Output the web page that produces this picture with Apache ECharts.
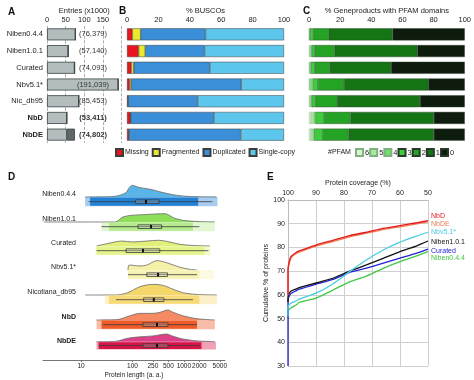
<!DOCTYPE html>
<html><head><meta charset="utf-8">
<script src="https://cdn.jsdelivr.net/npm/echarts@6/dist/echarts.min.js"></script>
<style>html,body{margin:0;padding:0;background:#fff}#c{width:474px;height:380px}</style>
</head><body><div id="c"></div>
<script>
// ---------------- DATA ----------------
const categories = ['Niben0.4.4','Niben1.0.1','Curated','Nbv5.1*','Nic_db95','NbD','NbDE'];
const boldRows = ['NbD','NbDE'];
// Panel A: number of entries
const entries = [76379, 57140, 74093, 191039, 85453, 53411, 74802];
const entriesExtra = [0, 0, 0, 0, 0, 0, 21391];   // NbDE part beyond NbD
const entriesTicks = [0, 50, 100, 150];
// Panel B: % BUSCOs
const buscoMissing    = [3.4, 7.4, 2.8, 1.7, 0.6, 2.1, 1.1];
const buscoFragmented = [5.3, 4.2, 1.5, 1.0, 0.2, 0.3, 0.2];
const buscoDuplicated = [41.3, 37.8, 48.4, 70.1, 44.2, 52.9, 71.1];
const buscoSingle     = [50.0, 50.6, 47.3, 27.2, 55.0, 44.7, 27.6];
// Panel C: % geneproducts with n PFAM domains
const pfam6 = [0.2, 0.4, 0.3, 0.3, 0.4, 1.3, 1.2];
const pfam5 = [0.2, 0.6, 0.4, 0.5, 0.6, 1.7, 1.4];
const pfam4 = [0.2, 0.7, 0.6, 1.9, 0.7, 1.2, 0.8];
const pfam3 = [2.3, 2.1, 2.5, 3.2, 2.5, 5.5, 5.7];
const pfam2 = [9.8, 12.7, 9.6, 16.6, 13.8, 17.0, 16.3];
const pfam1 = [41.0, 53.1, 39.3, 54.1, 53.3, 53.5, 54.8];
const pfam0 = [46.3, 30.4, 47.3, 23.4, 28.7, 19.8, 19.8];
const pfamNames = ['6','5','4','3','2','1','0'];
// Panel D: protein length distributions ([length, relative density])
const dRowNames = ['Niben0.4.4','Niben1.0.1','Curated','Nbv5.1*','Nicotiana_db95','NbD','NbDE'];
const densNiben044 = [[12,0],[40,0.03],[55,0.12],[75,0.35],[88,0.75],[100,0.9],[120,0.8],[140,0.72],[220,0.6],[340,0.4],[610,0.18],[1150,0.05],[2500,0.01],[4300,0]];
const densNiben101 = [[1.9,0],[45,0],[55,0.15],[63,0.36],[90,0.5],[190,0.58],[430,0.64],[560,0.45],[620,0.33],[950,0.13],[2000,0.03],[4000,0]];
const densCurated  = [[20,0],[32,0.18],[63,0.38],[100,0.31],[190,0.38],[320,0.44],[460,0.36],[840,0.13],[1500,0.04],[3200,0]];
const densNbv51    = [[82,0],[86,0.38],[140,0.31],[190,0.38],[300,0.72],[460,0.56],[840,0.21],[1300,0.05],[1800,0]];
const densNicDb95  = [[12,0],[50,0],[70,0.1],[90,0.26],[140,0.64],[250,0.82],[390,0.74],[620,0.44],[950,0.18],[1800,0.04],[4400,0]];
const densNbD      = [[20,0],[50,0.03],[90,0.33],[140,0.51],[250,0.51],[340,0.59],[490,0.77],[620,0.59],[950,0.33],[1800,0.1],[4000,0]];
const densNbDE     = [[20,0],[45,0.03],[82,0.33],[140,0.46],[250,0.54],[460,0.72],[620,0.51],[950,0.26],[1800,0.08],[4000,0]];
const dDensities = [densNiben044, densNiben101, densCurated, densNbv51, densNicDb95, densNbD, densNbDE];
const dRainOuter = [[12,4500],[25,4000],[19,3300],[82,3800],[29,4400],[20,4000],[20,4200]];
const dRainInner = [[15,1900],[35,1500],[20,2500],[82,2000],[35,2000],[25,1800],[22,2200]];
const dBoxStats  = [[14,115,183,330,3600],[25,128,230,370,2000],[20,75,160,340,3000],[82,190,315,480,1800],[48,165,260,410,1500],[27,160,300,490,1800],[22,160,300,490,2000]];
const dTickValues = [10, 100, 250, 500, 1000, 2000, 5000];
// Panel E: cumulative % of proteins vs protein coverage
const eNames = ['NbD','NbDE','Nbv5.1*','Niben1.0.1','Curated','Niben0.4.4'];
const eCoverage = [100, 100, 99, 97, 96, 90, 84, 78, 72, 66, 60, 54, 50];
const eNbD     = [60, 71, 76, 78, 78.5, 81, 83, 85, 86.4, 88, 89.2, 90.4, 91.3];
const eNbDE    = [60, 70, 75.5, 77.5, 78, 80.5, 82.5, 84.5, 86, 87.5, 88.7, 89.9, 90.8];
const eNbv51   = [51, 55, 56.5, 57.5, 58.2, 60.7, 64.6, 69.8, 74.7, 78.9, 82.2, 84.8, 86.4];
const eNiben101= [57, 59.5, 61.5, 62.5, 63, 65, 67, 70, 72.6, 75.4, 78.2, 80.7, 82.7];
const eCurated = [30, 58, 60.5, 61.8, 62.4, 64.5, 66.5, 69.5, 71.3, 73.4, 75.5, 77.6, 79.3];
const eNiben044= [50, 53, 54.5, 55.8, 56.8, 58.6, 62, 65.5, 67.9, 71.2, 74, 76.4, 78.2];
const eValues = [eNbD, eNbDE, eNbv51, eNiben101, eCurated, eNiben044];

// ---------------- STYLE ----------------
const FONT = '"Liberation Sans", Arial, sans-serif';
const FS = 7.5;
const buscoColors = ['#e8161e', '#eaea2c', '#3a8fd8', '#5cc6ec'];
const pfamColors = ['#d8f4d0', '#aaea9c', '#6ee06e', '#3ccc3c', '#24a324', '#157515', '#0e1c0e'];
const dFill = ['#5ab4e8', '#8ede5a', '#e2f07a', '#f5f1a8', '#f5d66a', '#f58a64', '#dc4088'];
const dBand = ['#2280d4', '#b4e98c', '#e6f48c', '#f7f3b4', '#f7da78', '#ee5a28', '#d61446'];
const dBaseY = [197, 222, 246, 270, 295, 320, 344];
const eColors = ['#e41a1c', '#f27a52', '#48cce2', '#111111', '#2222d6', '#44c844'];
const eLabelDy = [-5, 2, 0, 1, 1.5, 6];

const rowsTop = 26, rowsH = 117, barW = 12;
const grids = [], xAxes = [], yAxes = [], series = [], graphics = [];

function catY(gi, showLabels){
  return {gridIndex: gi, type: 'category', data: categories, inverse: true,
    axisLine: {show: false}, axisTick: {show: false},
    axisLabel: {show: showLabels, fontSize: FS, color: '#222', margin: 4,
      formatter: v => boldRows.includes(v) ? '{b|' + v + '}' : v,
      rich: {b: {fontWeight: 'bold', fontSize: FS, fontFamily: FONT, color: '#222'}}}};
}
function topX(gi, name, max, interval, extra){
  return Object.assign({gridIndex: gi, type: 'value', position: 'top', min: 0, max: max, interval: interval,
    name: name, nameLocation: 'middle', nameGap: 9.5, nameTextStyle: {fontSize: FS, color: '#222'},
    axisLine: {show: false}, axisTick: {show: false},
    axisLabel: {fontSize: FS, color: '#222', margin: 2},
    splitLine: {show: false}}, extra || {});
}

// Panel A
grids.push({left: 47, top: rowsTop, width: 74.6, height: rowsH});
xAxes.push(topX(0, 'Entries (x1000)', 200, 50, {
  axisLabel: {fontSize: FS, color: '#222', margin: 2, showMaxLabel: false},
  splitLine: {show: true, lineStyle: {type: 'dashed', color: '#9a9a9a', width: 0.8}}}));
yAxes.push(catY(0, true));
series.push({type: 'bar', xAxisIndex: 0, yAxisIndex: 0, stack: 'a', barWidth: barW, name: 'entries',
  data: entries.map((v, i) => ({value: (v - entriesExtra[i]) / 1000,
    label: {fontWeight: boldRows.includes(categories[i]) ? 'bold' : 'normal'}})),
  itemStyle: {color: '#b4bdbd', borderColor: '#384242', borderWidth: 0.8},
  label: {show: true, position: [46, '50%'], align: 'center', verticalAlign: 'middle', fontSize: FS, color: '#333',
    formatter: p => '(' + entries[p.dataIndex].toLocaleString('en-US') + ')'}});
series.push({type: 'bar', xAxisIndex: 0, yAxisIndex: 0, stack: 'a', barWidth: barW, name: 'entriesExtra',
  data: entriesExtra.map(v => v / 1000),
  itemStyle: {color: '#5f6969', borderColor: '#384242', borderWidth: 0.8}});

// Panel B
grids.push({left: 127, top: rowsTop, width: 157, height: rowsH});
xAxes.push(topX(1, '% BUSCOs', 100, 20));
yAxes.push(catY(1, false));
[['Missing', buscoMissing], ['Fragmented', buscoFragmented], ['Duplicated', buscoDuplicated], ['Single-copy', buscoSingle]]
  .forEach(([n, d], k) => series.push({type: 'bar', name: n, xAxisIndex: 1, yAxisIndex: 1, stack: 'b', barWidth: barW,
    data: d, itemStyle: {color: buscoColors[k], borderColor: '#3c3c3c', borderWidth: 0.5}}));

// Panel C
grids.push({left: 309, top: rowsTop, width: 157, height: rowsH});
xAxes.push(topX(2, '% Geneproducts with PFAM domains', 100, 20));
yAxes.push(catY(2, false));
[pfam6, pfam5, pfam4, pfam3, pfam2, pfam1, pfam0].forEach((d, k) => series.push({type: 'bar', name: pfamNames[k],
  xAxisIndex: 2, yAxisIndex: 2, stack: 'c', barWidth: barW, data: d,
  itemStyle: {color: pfamColors[k], borderColor: k < 3 ? '#7fb07f' : '#2a3a2a', borderWidth: 0.4}}));

// Panel D
const lg = v => Math.log10(v);
function rainRender(i){
  return function(params, api){
    const y0 = api.coord([0, 0])[1], y1 = api.coord([0, -0.72])[1], ym = api.coord([0, -0.36])[1];
    const X = k => api.coord([api.value(k), 0])[0];
    const oLo = X(0), oHi = X(1), iLo = X(2), iHi = X(3), wLo = X(4), q1 = X(5), md = X(6), q3 = X(7), wHi = X(8);
    return {type: 'group', children: [
      {type: 'rect', shape: {x: oLo, y: y0, width: oHi - oLo, height: y1 - y0}, style: {fill: dBand[i], opacity: 0.4}},
      {type: 'rect', shape: {x: iLo, y: y0 + 0.5, width: iHi - iLo, height: y1 - y0 - 1}, style: {fill: dBand[i]}},
      {type: 'line', shape: {x1: wLo, y1: ym, x2: wHi, y2: ym}, style: {stroke: '#3a3a3a', lineWidth: 0.8}},
      {type: 'rect', shape: {x: q1, y: ym - 1.8, width: q3 - q1, height: 3.6}, style: {fill: 'rgba(255,255,255,0.2)', stroke: '#3a3a3a', lineWidth: 0.8}},
      {type: 'rect', shape: {x: md - 1, y: ym - 1.8, width: 2, height: 3.6}, style: {fill: '#111'}}
    ]};
  };
}
for (let i = 0; i < 7; i++) {
  const gi = 3 + i, last = i === 6;
  grids.push({left: 43, width: 182, top: dBaseY[i] - 13, height: 23});
  xAxes.push({gridIndex: gi, type: 'value', min: 0.26, max: 3.8, show: last, position: 'bottom', offset: 10,
    axisLine: {onZero: false, lineStyle: {color: '#777', width: 1}},
    axisTick: {customValues: dTickValues.map(lg), length: 2, lineStyle: {color: '#777'}},
    axisLabel: {customValues: dTickValues.map(lg), fontSize: 6.5, color: '#222', margin: 3,
      formatter: v => String(Math.round(Math.pow(10, v)))},
    splitLine: {show: false},
    name: 'Protein length (a. a.)', nameLocation: 'middle', nameGap: 12, nameTextStyle: {fontSize: 6.5, color: '#222'}});
  yAxes.push({gridIndex: gi, type: 'value', min: -0.77, max: 1, show: false});
  series.push({type: 'line', xAxisIndex: gi, yAxisIndex: gi, smooth: 0.3, symbol: 'none', z: 2,
    data: dDensities[i].map(([l, d]) => [lg(l), d]),
    lineStyle: {color: '#6a6a6a', width: 0.8}, areaStyle: {color: dFill[i], opacity: 1}});
  const o = dRainOuter[i], n = dRainInner[i], b = dBoxStats[i];
  series.push({type: 'custom', xAxisIndex: gi, yAxisIndex: gi, z: 3, renderItem: rainRender(i),
    data: [[o[0], o[1], n[0], n[1], b[0], b[1], b[2], b[3], b[4]].map(lg)]});
  graphics.push({type: 'text', x: 76, y: dBaseY[i] - 3, style: {text: dRowNames[i], align: 'right', verticalAlign: 'middle',
    font: (boldRows.includes(dRowNames[i]) ? 'bold ' : '') + '7px ' + FONT, fill: '#222'}});
}

// Panel E
const eg = 10;
grids.push({left: 288, top: 200, width: 140, height: 166});
xAxes.push({gridIndex: eg, type: 'value', position: 'top', inverse: true, min: 50, max: 100, interval: 10,
  name: 'Protein coverage (%)', nameLocation: 'middle', nameGap: 13, nameTextStyle: {fontSize: 7, color: '#222'},
  axisLine: {show: true, lineStyle: {color: '#bbb'}}, axisTick: {show: false},
  axisLabel: {fontSize: 7, color: '#222', margin: 3}, splitLine: {show: true, lineStyle: {color: '#cfcfcf'}}});
yAxes.push({gridIndex: eg, type: 'value', min: 30, max: 100, interval: 10,
  name: 'Cumulative % of proteins', nameLocation: 'middle', nameGap: 17, nameTextStyle: {fontSize: 7, color: '#222'},
  axisLine: {show: true, lineStyle: {color: '#bbb'}}, axisTick: {show: false},
  axisLabel: {fontSize: 7, color: '#222', margin: 3}, splitLine: {show: true, lineStyle: {color: '#cfcfcf'}}});
eNames.forEach((nm, k) => {
  const vals = eValues[k];
  series.push({type: 'line', name: nm, xAxisIndex: eg, yAxisIndex: eg, symbol: 'circle', symbolSize: 0,
    showSymbol: true, showAllSymbol: true, smooth: 0.2,
    z: 10 - k, lineStyle: {color: eColors[k], width: 1.3}, itemStyle: {color: eColors[k]},
    label: {show: false},
    data: eCoverage.map((c, j) => j === eCoverage.length - 1
      ? {value: [c, vals[j]], label: {show: true, position: 'right', distance: 3, offset: [0, eLabelDy[k]],
          formatter: nm, fontSize: 7, color: eColors[k]}}
      : [c, vals[j]])});
});

// Panel letters and extra text
[['A', 8, 12], ['B', 119, 11], ['C', 303, 11], ['D', 8, 177], ['E', 267, 177]].forEach(([t, x, y]) =>
  graphics.push({type: 'text', x: x, y: y, style: {text: t, verticalAlign: 'middle', font: 'bold 10px ' + FONT, fill: '#111'}}));
graphics.push({type: 'text', x: 328, y: 152, style: {text: '#PFAM', verticalAlign: 'middle', font: '7px ' + FONT, fill: '#222'}});

const option = {
  animation: false,
  textStyle: {fontFamily: FONT},
  grid: grids, xAxis: xAxes, yAxis: yAxes, series: series,
  legend: [
    {data: ['Missing', 'Fragmented', 'Duplicated', 'Single-copy'], left: 115, top: 148, icon: 'rect',
      itemWidth: 7, itemHeight: 7, itemGap: 3, padding: 0, textStyle: {fontSize: 7, color: '#222', padding: [0, 0, 0, -3]}},
    {data: pfamNames, left: 355, top: 148, icon: 'rect', itemWidth: 7, itemHeight: 7, itemGap: 0, padding: 0,
      textStyle: {fontSize: FS, color: '#222', padding: [0, 0, 0, -3]}}
  ],
  graphic: graphics
};
const chart = echarts.init(document.getElementById('c'), null, {renderer: 'canvas'});
chart.setOption(option);
</script></body></html>
